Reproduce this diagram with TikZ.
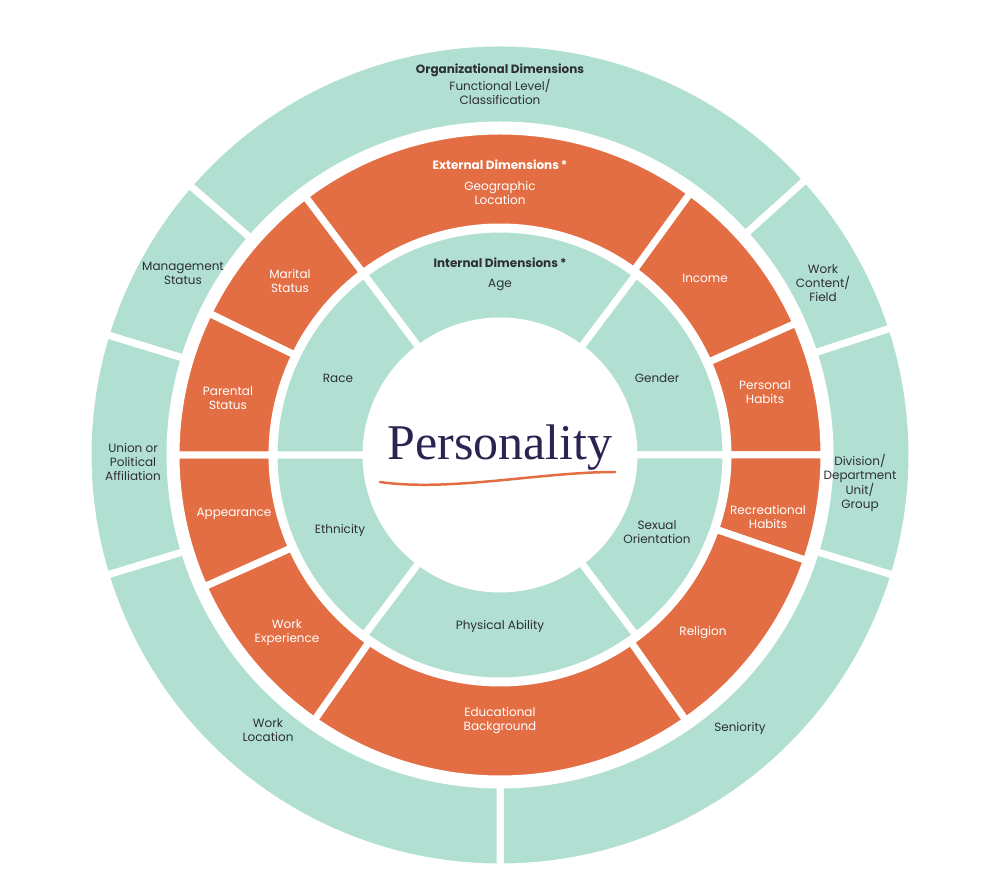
\documentclass[tikz,border=0pt]{standalone}
\usepackage{fontspec}
\setmainfont{Poppins}
\newfontfamily\titlefont{Liberation Serif}
\definecolor{tealc}{HTML}{B1E0D3}
\definecolor{orangec}{HTML}{E36E44}
\definecolor{navy}{HTML}{2B2452}
\definecolor{txt}{HTML}{2E2E36}
\newcommand\seg[5]{\fill[#1,draw=white,line width=7pt] (C) ++(#2:#4) arc[start angle=#2,end angle=#3,radius=#4] -- ($(C)+(#3:#5)$) arc[start angle=#3,end angle=#2,radius=#5] -- cycle;}
\usetikzlibrary{calc}
\begin{document}
\begin{tikzpicture}[x=1pt,y=1pt,
 lt/.style={font=\fontsize{12}{14}\selectfont,text=txt,align=center},
 lo/.style={font=\fontsize{12}{14}\selectfont,text=white,align=center},
 hd/.style={font=\fontsize{12}{14}\selectfont\bfseries,align=center}]
\useasboundingbox (0,0) rectangle (999,892);
\fill[white] (0,0) rectangle (999,892);
\coordinate (C) at (500,437);
% outer ring
\seg{tealc}{42}{139}{330}{412}
\seg{tealc}{139}{163}{330}{412}
\seg{tealc}{163}{344}{330}{412}
\seg{tealc}{-16}{-90}{330}{412}
\seg{tealc}{-17}{18}{330}{412}
\seg{tealc}{18}{42}{330}{412}
\seg{tealc}{-90}{-17}{330}{412}
\seg{tealc}{163}{197}{330}{412}
\seg{tealc}{197}{270}{330}{412}
% orange ring
\seg{orangec}{54}{127}{228}{324}
\seg{orangec}{24}{54}{228}{324}
\seg{orangec}{0}{24}{228}{324}
\seg{orangec}{-19}{0}{228}{324}
\seg{orangec}{-55}{-19}{228}{324}
\seg{orangec}{-125}{-55}{228}{324}
\seg{orangec}{-156}{-125}{228}{324}
\seg{orangec}{-180}{-156}{228}{324}
\seg{orangec}{154}{180}{228}{324}
\seg{orangec}{127}{154}{228}{324}
% inner ring
\seg{tealc}{53}{127}{134}{226}
\seg{tealc}{0}{53}{134}{226}
\seg{tealc}{-53}{0}{134}{226}
\seg{tealc}{-127}{-53}{134}{226}
\seg{tealc}{-180}{-127}{134}{226}
\seg{tealc}{127}{180}{134}{226}
\fill[white] (C) circle (132);
% outer labels
\node[hd,text=txt] (org) at (500,822) {Organizational Dimensions};
\node[lt] (func) at (500,800) {Functional Level/\\Classification};
\node[lt] (mgmt) at (183,619) {Management\\Status};
\node[lt] (work) at (823,609) {Work\\Content/\\Field};
\node[lt] (union) at (133,430) {Union or\\Political\\Affiliation};
\node[lt] (div) at (860,409) {Division/\\Department\\Unit/\\Group};
\node[lt] (wloc) at (268,162) {Work\\Location};
\node[lt] (sen) at (740,164) {Seniority};
% orange labels
\node[hd,text=white] (ext) at (500,727) {External Dimensions\,*};
\node[lo] (geo) at (500,699) {Geographic\\Location};
\node[lo] (mar) at (290,611) {Marital\\Status};
\node[lo] (inc) at (705,614) {Income};
\node[lo] (par) at (228,494) {Parental\\Status};
\node[lo] (pers) at (765,500) {Personal\\Habits};
\node[lo] (app) at (234,378) {Appearance};
\node[lo] (rec) at (768,375) {Recreational\\Habits};
\node[lo] (wexp) at (287,259) {Work\\Experience};
\node[lo] (rel) at (703,259) {Religion};
\node[lo] (edu) at (500,171) {Educational\\Background};
% inner labels
\node[hd,text=txt] (int) at (500,629) {Internal Dimensions\,*};
\node[lt] (age) at (500,607) {Age};
\node[lt] (race) at (338,514) {Race};
\node[lt] (gen) at (657,514) {Gender};
\node[lt] (eth) at (340,362) {Ethnicity};
\node[lt] (sex) at (657,360) {Sexual\\Orientation};
\node[lt] (phys) at (500,266) {Physical Ability};
% center
\node[font=\titlefont\fontsize{50}{55}\selectfont,text=navy] (pers0) at (500,444) {Personality};
\coordinate (s1) at (380,410);
\coordinate (s2) at (615,420);
\draw[orangec,line width=2.5pt,line cap=round] (s1) .. controls (450,400) and (540,420) .. (s2);
\end{tikzpicture}
\end{document}
